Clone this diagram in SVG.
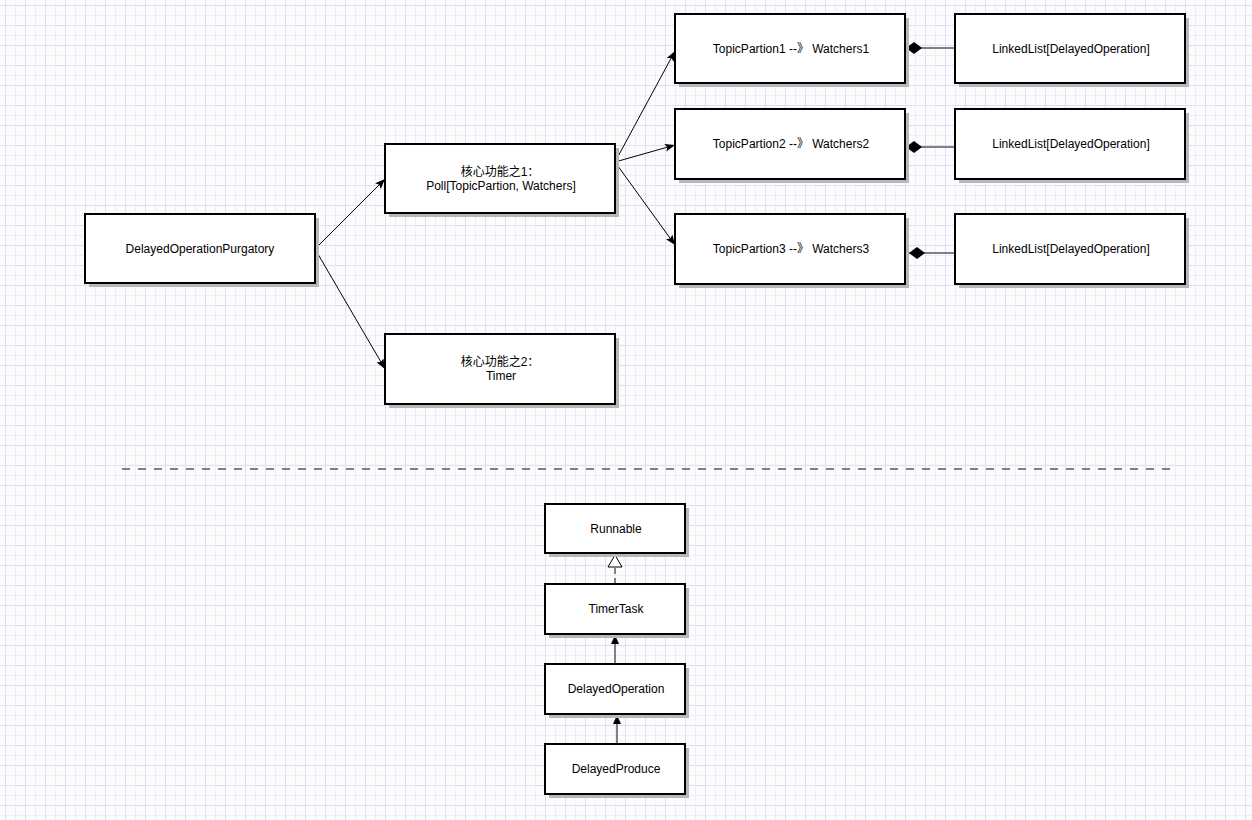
<svg xmlns="http://www.w3.org/2000/svg" width="1252" height="820" viewBox="0 0 1252 820">
<style>
.box{fill:#fff;stroke:#000;stroke-width:2}
.sh{fill:#b8b8b8}
.t{font-family:"Liberation Sans",Arial,"Noto Sans CJK SC",sans-serif;font-size:12px;fill:#000;text-anchor:middle}
.thin{stroke:#000;stroke-width:1;fill:none}
.grey{stroke:#808080;stroke-width:2;fill:none}
</style>
<defs>
<pattern id="grid" patternUnits="userSpaceOnUse" x="5" y="5" width="20" height="20">
<path d="M0.5,0 V20 M0,0.5 H20" stroke="#dfdcf7" stroke-width="1" fill="none"/>
<path d="M10.5,0 V20 M0,10.5 H20" stroke="#eeecfb" stroke-width="1" fill="none"/>
</pattern>
<marker id="arr" markerUnits="userSpaceOnUse" viewBox="0 0 10 8" refX="10" refY="4" markerWidth="10" markerHeight="8" orient="auto">
<path d="M0,0 L10,4 L0,8 L2,4 z" fill="#000"/>
</marker>
<marker id="arr2" markerUnits="userSpaceOnUse" viewBox="0 0 9 8" refX="9" refY="4" markerWidth="9" markerHeight="8" orient="auto">
<path d="M0,0 L9,4 L0,8 z" fill="#000"/>
</marker>
<marker id="dia" markerUnits="userSpaceOnUse" viewBox="0 0 16 12" refX="16" refY="6" markerWidth="16" markerHeight="12" orient="auto">
<path d="M0,6 L8,0 L16,6 L8,12 z" fill="#000"/>
</marker>
<marker id="tri" markerUnits="userSpaceOnUse" viewBox="-1 -1 14 16" refX="12" refY="7" markerWidth="14" markerHeight="16" orient="auto">
<path d="M0,0 L12,7 L0,14 z" fill="#fff" stroke="#000" stroke-width="1"/>
</marker>
</defs>
<rect width="1252" height="820" fill="#fcfcfd"/>
<rect width="1252" height="820" fill="url(#grid)"/>

<line x1="122" y1="469" x2="1172" y2="469" stroke="#808080" stroke-width="2" stroke-dasharray="8 8"/>

<g id="connectors">
<line class="thin" x1="315" y1="249" x2="385" y2="179" marker-end="url(#arr)"/>
<line class="thin" x1="315" y1="249" x2="385" y2="369" marker-end="url(#arr)"/>
<line class="thin" x1="615" y1="162" x2="675" y2="51" marker-end="url(#arr)"/>
<line class="thin" x1="615" y1="162" x2="675" y2="145" marker-end="url(#arr)"/>
<line class="thin" x1="615" y1="162" x2="675" y2="245" marker-end="url(#arr)"/>
<line class="grey" x1="955" y1="48" x2="906" y2="48" marker-end="url(#dia)"/>
<line class="grey" x1="955" y1="147" x2="906" y2="147" marker-end="url(#dia)"/>
<line class="grey" x1="958" y1="253" x2="909" y2="253" marker-end="url(#dia)"/>
<line class="grey" x1="615" y1="584" x2="615" y2="555" stroke-dasharray="6 4" marker-end="url(#tri)"/>
<line class="grey" x1="615" y1="664" x2="615" y2="635" marker-end="url(#arr2)"/>
<line class="grey" x1="617" y1="744" x2="617" y2="715" marker-end="url(#arr2)"/>
</g>

<g id="purgatory">
<rect class="sh" x="89" y="218" width="230" height="69"/>
<rect class="box" x="85" y="214" width="230" height="69"/>
<text class="t" x="200" y="253">DelayedOperationPurgatory</text>
</g>
<g id="core1">
<rect class="sh" x="389" y="148" width="230" height="69"/>
<rect class="box" x="385" y="144" width="230" height="69"/>
<text class="t" x="500" y="176">核心功能之1：</text>
<text class="t" x="501" y="190">Poll[TopicPartion, Watchers]</text>
</g>
<g id="core2">
<rect class="sh" x="389" y="338" width="230" height="70"/>
<rect class="box" x="385" y="334" width="230" height="70"/>
<text class="t" x="500" y="366">核心功能之2：</text>
<text class="t" x="501" y="380">Timer</text>
</g>
<g id="tp1">
<rect class="sh" x="679" y="18" width="230" height="69"/>
<rect class="box" x="675" y="14" width="230" height="69"/>
<text class="t" x="791" y="53">TopicPartion1 --》 Watchers1</text>
</g>
<g id="tp2">
<rect class="sh" x="679" y="113" width="230" height="70"/>
<rect class="box" x="675" y="109" width="230" height="70"/>
<text class="t" x="791" y="148">TopicPartion2 --》 Watchers2</text>
</g>
<g id="tp3">
<rect class="sh" x="679" y="218" width="230" height="70"/>
<rect class="box" x="675" y="214" width="230" height="70"/>
<text class="t" x="791" y="253">TopicPartion3 --》 Watchers3</text>
</g>
<g id="ll1">
<rect class="sh" x="959" y="18" width="230" height="69"/>
<rect class="box" x="955" y="14" width="230" height="69"/>
<text class="t" x="1071" y="53">LinkedList[DelayedOperation]</text>
</g>
<g id="ll2">
<rect class="sh" x="959" y="113" width="230" height="70"/>
<rect class="box" x="955" y="109" width="230" height="70"/>
<text class="t" x="1071" y="148">LinkedList[DelayedOperation]</text>
</g>
<g id="ll3">
<rect class="sh" x="959" y="218" width="230" height="70"/>
<rect class="box" x="955" y="214" width="230" height="70"/>
<text class="t" x="1071" y="253">LinkedList[DelayedOperation]</text>
</g>
<g id="runnable">
<rect class="sh" x="549" y="508" width="140" height="49"/>
<rect class="box" x="545" y="504" width="140" height="49"/>
<text class="t" x="616" y="533">Runnable</text>
</g>
<g id="timertask">
<rect class="sh" x="549" y="588" width="140" height="50"/>
<rect class="box" x="545" y="584" width="140" height="50"/>
<text class="t" x="616" y="613">TimerTask</text>
</g>
<g id="delayedop">
<rect class="sh" x="549" y="668" width="140" height="50"/>
<rect class="box" x="545" y="664" width="140" height="50"/>
<text class="t" x="616" y="693">DelayedOperation</text>
</g>
<g id="delayedproduce">
<rect class="sh" x="549" y="748" width="140" height="50"/>
<rect class="box" x="545" y="744" width="140" height="50"/>
<text class="t" x="616" y="773">DelayedProduce</text>
</g>
</svg>
